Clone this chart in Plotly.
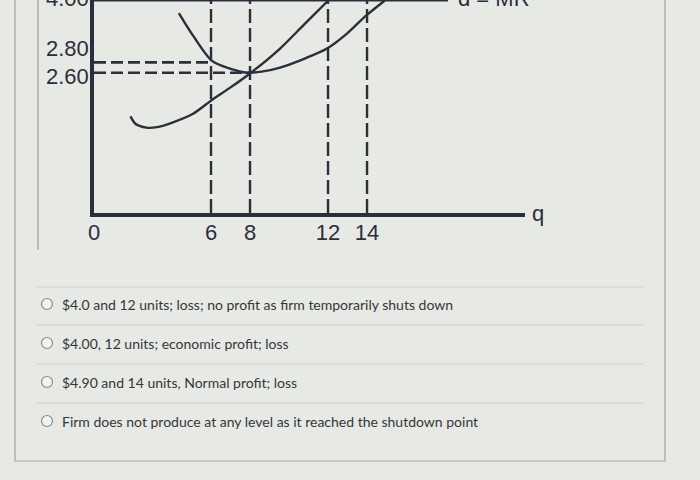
import plotly.graph_objects as go

# ---- data ----
mc_q = [1.87, 2.14, 2.69, 3.23, 3.95, 5.08, 6.08, 6.87, 8.05, 9.54, 10.73, 12.0]
mc_p = [1.75, 1.60, 1.53, 1.54, 1.62, 1.80, 2.08, 2.28, 2.60, 3.07, 3.52, 4.0]

atc_q = [4.35, 5.08, 6.05, 6.97, 7.85, 8.6, 9.54, 10.9, 11.95, 12.97, 13.95, 14.9]
atc_p = [3.76, 3.32, 2.83, 2.68, 2.60, 2.62, 2.70, 2.89, 3.07, 3.36, 3.71, 4.0]

price_mr = 4.00
mr_q_end = 18.15
q_marks = [0, 6, 8, 12, 14]
q_labels = ["0", "6", "8", "12", "14"]
dashed_q = [6, 8, 12, 14]
price_levels = [2.80, 2.60]
price_level_q = [6, 8]
price_labels = ["2.80", "2.60"]
options = [
    "$4.0 and 12 units; loss; no profit as firm temporarily shuts down",
    "$4.00, 12 units; economic profit; loss",
    "$4.90 and 14 units, Normal profit; loss",
    "Firm does not produce at any level as it reached the shutdown point",
]

# ---- layout geometry (pixels) ----
W, H = 700, 480
L, R, T, B = 94, 525, 0, 213
INK = "#2b2f3a"
BG = "#e7e9e4"


def px_x(px):
    return (px - L) / (R - L)


def px_y(py):
    return (B - py) / (B - T)


fig = go.Figure()
fig.add_trace(go.Scatter(x=mc_q, y=mc_p, mode="lines", line=dict(color=INK, width=2.4, shape="spline", smoothing=0.8),
                         hoverinfo="skip", showlegend=False))
fig.add_trace(go.Scatter(x=atc_q, y=atc_p, mode="lines", line=dict(color=INK, width=2.4, shape="spline", smoothing=0.8),
                         hoverinfo="skip", showlegend=False))
fig.add_trace(go.Scatter(x=[0, mr_q_end], y=[price_mr, price_mr], mode="lines",
                         line=dict(color=INK, width=1.8), hoverinfo="skip", showlegend=False))

shapes = []
for q in dashed_q:
    shapes.append(dict(type="line", xref="x", yref="paper", x0=q, x1=q, y0=0, y1=1,
                       line=dict(color=INK, width=2.4, dash="14px,5px")))
for p, qe in zip(price_levels, price_level_q):
    shapes.append(dict(type="line", xref="x", yref="y", x0=0, x1=qe, y0=p, y1=p,
                       line=dict(color=INK, width=2.6, dash="12px,5px")))

# page frame elements
shapes.append(dict(type="line", xref="paper", yref="paper", x0=px_x(38), x1=px_x(38), y0=px_y(-5), y1=px_y(250),
                   line=dict(color="#8d8f8c", width=1)))
shapes.append(dict(type="rect", xref="paper", yref="paper", x0=px_x(15), x1=px_x(665), y0=px_y(-10), y1=px_y(461),
                   line=dict(color="#a3a5a2", width=1.2), fillcolor="rgba(0,0,0,0)"))
for sy in [287, 325, 364, 403]:
    shapes.append(dict(type="line", xref="paper", yref="paper", x0=px_x(37), x1=px_x(643), y0=px_y(sy), y1=px_y(sy),
                       line=dict(color="#cfd1cd", width=1)))

annotations = []
option_y = [304, 343, 382, 421]
for txt, oy in zip(options, option_y):
    r = 5.5
    shapes.append(dict(type="circle", xref="paper", yref="paper", x0=px_x(47 - r), x1=px_x(47 + r),
                       y0=px_y(oy + r), y1=px_y(oy - r), line=dict(color="#8a8c8a", width=1.2),
                       fillcolor="#f2f3f0"))
    annotations.append(dict(text=txt, xref="paper", yref="paper", x=px_x(60), y=px_y(oy), xanchor="left",
                            yanchor="middle", showarrow=False,
                            font=dict(family="Lato", size=14, color="#33373b")))

lab_font = dict(family="Liberation Sans, Arial", size=22, color=INK)
for p, lab, ys in zip(price_levels, price_labels, [14, -4]):
    annotations.append(dict(text=lab, xref="paper", yref="y", x=0, y=p, xanchor="right", yanchor="middle",
                            xshift=-3, yshift=ys, showarrow=False, font=lab_font))
annotations.append(dict(text="4.00", xref="paper", yref="y", x=0, y=price_mr, xanchor="right", yanchor="middle",
                        xshift=-3, yshift=2, showarrow=False, font=lab_font))
annotations.append(dict(text="d = MR", xref="x", yref="y", x=mr_q_end, y=price_mr, xanchor="left",
                        yanchor="middle", xshift=8, yshift=2, showarrow=False, font=lab_font))
annotations.append(dict(text="q", xref="paper", yref="paper", x=1, y=0, xanchor="left", yanchor="middle",
                        xshift=5, showarrow=False, font=lab_font))

fig.update_layout(
    width=W, height=H,
    margin=dict(l=L, r=W - R, t=T, b=H - B, pad=0),
    paper_bgcolor=BG, plot_bgcolor=BG,
    shapes=shapes, annotations=annotations,
    xaxis=dict(range=[0, 22.1], showgrid=False, zeroline=False, showline=True, linecolor=INK, linewidth=4,
               tickmode="array", tickvals=q_marks, ticktext=q_labels, ticks="",
               ticklabelstandoff=-3, tickfont=lab_font),
    yaxis=dict(range=[-0.13, 4.014], showgrid=False, zeroline=False, showline=True, linecolor=INK, linewidth=4,
               showticklabels=False, ticks=""),
    showlegend=False,
)

fig.write_html("out.html", config={"displayModeBar": False},
               post_script="document.body.style.margin='0';document.body.style.background='%s';" % BG)
